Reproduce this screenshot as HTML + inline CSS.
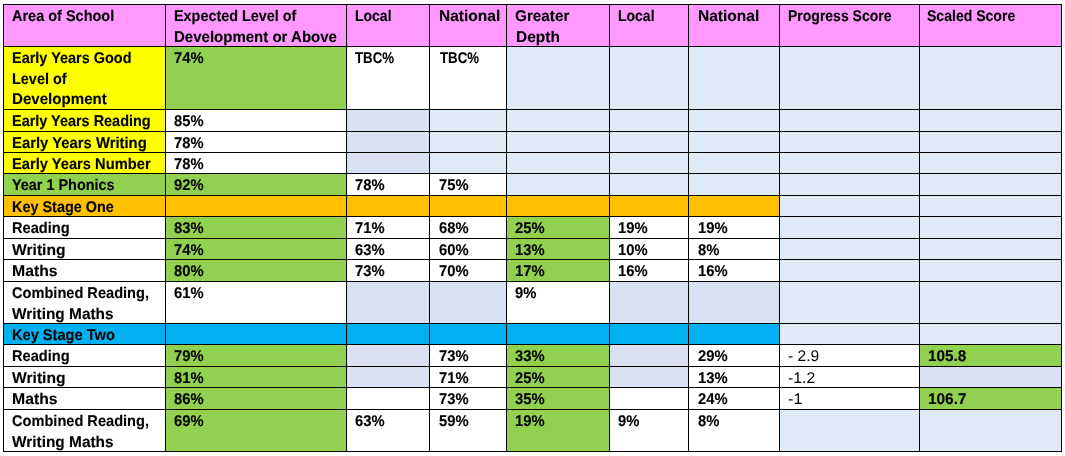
<!DOCTYPE html>
<html lang="en">
<head>
<meta charset="utf-8">
<title>School results</title>
<style>
html,body{margin:0;padding:0;background:#fff;}
body{width:1065px;height:456px;overflow:hidden;position:relative;font-family:"Liberation Sans",sans-serif;}
table{text-rendering:geometricPrecision;position:absolute;left:3px;top:4px;border-collapse:separate;border-spacing:1px;background:#000;table-layout:fixed;width:1059px;}
td,th{padding:0;margin:0;border:0;vertical-align:top;text-align:left;font-weight:bold;font-size:15.0px;color:#000;overflow:visible;-webkit-text-stroke:0.12px #000;}
td div,th div{box-sizing:border-box;padding-left:8px;padding-top:2.1px;line-height:20.5px;white-space:nowrap;overflow:visible;}
.n div{font-weight:normal;-webkit-text-stroke:0;}
span{display:inline-block;transform-origin:0 15.45px;}
</style>
</head>
<body>
<table>
<colgroup>
<col style="width:161px">
<col style="width:180px">
<col style="width:82px">
<col style="width:76px">
<col style="width:102px">
<col style="width:78px">
<col style="width:90px">
<col style="width:139px">
<col style="width:141px">
</colgroup>
<tr style="height:41px">
<th style="background:#FF99FF"><div style="height:41px"><span style="margin-left:-0.3px;transform:scale(0.9656,1.035)">Area of School</span></div></th>
<th style="background:#FF99FF"><div style="height:41px"><span style="margin-left:0.1px;transform:scale(0.9591,1.035)">Expected Level of</span><br><span style="margin-left:0.1px;transform:scale(1.0006,1.035)">Development or Above</span></div></th>
<th style="background:#FF99FF"><div style="height:41px"><span style="margin-left:-0.2px;transform:scale(0.9324,1.035)">Local</span></div></th>
<th style="background:#FF99FF"><div style="height:41px"><span style="margin-left:0.7px;transform:scale(1.0347,1.035)">National</span></div></th>
<th style="background:#FF99FF"><div style="height:41px"><span style="margin-left:0.4px;transform:scale(1.0187,1.035)">Greater</span><br><span style="margin-left:0.8px;transform:scale(1.0337,1.035)">Depth</span></div></th>
<th style="background:#FF99FF"><div style="height:41px"><span style="margin-left:-0.2px;transform:scale(0.9324,1.035)">Local</span></div></th>
<th style="background:#FF99FF"><div style="height:41px"><span style="margin-left:0.7px;transform:scale(1.0347,1.035)">National</span></div></th>
<th style="background:#FF99FF"><div style="height:41px"><span style="margin-left:-0.5px;transform:scale(0.9331,1.035)">Progress Score</span></div></th>
<th style="background:#FF99FF"><div style="height:41px"><span style="margin-left:-0.7px;transform:scale(0.9362,1.035)">Scaled Score</span></div></th>
</tr>
<tr style="height:62px">
<td style="background:#FFFF00"><div style="height:62px"><span style="margin-left:-0.2px;transform:scale(0.9641,1.035)">Early Years Good</span><br><span style="margin-left:-0.2px;transform:scale(0.9626,1.035)">Level of</span><br><span style="margin-left:-0.2px;transform:scale(1.0067,1.035)">Development</span></div></td>
<td style="background:#92D050"><div style="height:62px"><span style="transform:scale(0.9860,1.035)">74%</span></div></td>
<td style="background:#FFFFFF"><div style="height:62px"><span style="margin-left:0.4px;transform:scale(0.8849,1.035)">TBC%</span></div></td>
<td style="background:#FFFFFF"><div style="height:62px"><span style="margin-left:1.5px;transform:scale(0.8849,1.035)">TBC%</span></div></td>
<td style="background:#DEEAF6"><div style="height:62px"></div></td>
<td style="background:#DEEAF6"><div style="height:62px"></div></td>
<td style="background:#DEEAF6"><div style="height:62px"></div></td>
<td style="background:#DEEAF6"><div style="height:62px"></div></td>
<td style="background:#DEEAF6"><div style="height:62px"></div></td>
</tr>
<tr style="height:21px">
<td style="background:#FFFF00"><div style="height:21px"><span style="margin-left:-0.2px;transform:scale(0.9629,1.035)">Early Years Reading</span></div></td>
<td style="background:#FFFFFF"><div style="height:21px"><span style="transform:scale(0.9860,1.035)">85%</span></div></td>
<td style="background:#D9E2F3"><div style="height:21px"></div></td>
<td style="background:#DEEAF6"><div style="height:21px"></div></td>
<td style="background:#DEEAF6"><div style="height:21px"></div></td>
<td style="background:#DEEAF6"><div style="height:21px"></div></td>
<td style="background:#DEEAF6"><div style="height:21px"></div></td>
<td style="background:#DEEAF6"><div style="height:21px"></div></td>
<td style="background:#DEEAF6"><div style="height:21px"></div></td>
</tr>
<tr style="height:20px">
<td style="background:#FFFF00"><div style="height:20px"><span style="margin-left:-0.2px;transform:scale(0.9895,1.035)">Early Years Writing</span></div></td>
<td style="background:#FFFFFF"><div style="height:20px"><span style="transform:scale(0.9860,1.035)">78%</span></div></td>
<td style="background:#D9E2F3"><div style="height:20px"></div></td>
<td style="background:#DEEAF6"><div style="height:20px"></div></td>
<td style="background:#DEEAF6"><div style="height:20px"></div></td>
<td style="background:#DEEAF6"><div style="height:20px"></div></td>
<td style="background:#DEEAF6"><div style="height:20px"></div></td>
<td style="background:#DEEAF6"><div style="height:20px"></div></td>
<td style="background:#DEEAF6"><div style="height:20px"></div></td>
</tr>
<tr style="height:20px">
<td style="background:#FFFF00"><div style="height:20px"><span style="margin-left:-0.2px;transform:scale(0.9799,1.035)">Early Years Number</span></div></td>
<td style="background:#FFFFFF"><div style="height:20px"><span style="transform:scale(0.9860,1.035)">78%</span></div></td>
<td style="background:#D9E2F3"><div style="height:20px"></div></td>
<td style="background:#DEEAF6"><div style="height:20px"></div></td>
<td style="background:#DEEAF6"><div style="height:20px"></div></td>
<td style="background:#DEEAF6"><div style="height:20px"></div></td>
<td style="background:#DEEAF6"><div style="height:20px"></div></td>
<td style="background:#DEEAF6"><div style="height:20px"></div></td>
<td style="background:#DEEAF6"><div style="height:20px"></div></td>
</tr>
<tr style="height:21px">
<td style="background:#92D050"><div style="height:21px"><span style="margin-left:-0.2px;transform:scale(0.9610,1.035)">Year 1 Phonics</span></div></td>
<td style="background:#92D050"><div style="height:21px"><span style="transform:scale(0.9860,1.035)">92%</span></div></td>
<td style="background:#FFFFFF"><div style="height:21px"><span style="margin-left:-0.4px;transform:scale(0.9860,1.035)">78%</span></div></td>
<td style="background:#FFFFFF"><div style="height:21px"><span style="margin-left:0.6px;transform:scale(0.9860,1.035)">75%</span></div></td>
<td style="background:#DEEAF6"><div style="height:21px"></div></td>
<td style="background:#DEEAF6"><div style="height:21px"></div></td>
<td style="background:#DEEAF6"><div style="height:21px"></div></td>
<td style="background:#DEEAF6"><div style="height:21px"></div></td>
<td style="background:#DEEAF6"><div style="height:21px"></div></td>
</tr>
<tr style="height:20px">
<td style="background:#FFC000"><div style="height:20px"><span style="margin-left:-0.2px;transform:scale(0.9615,1.035)">Key Stage One</span></div></td>
<td style="background:#FFC000"><div style="height:20px"></div></td>
<td style="background:#FFC000"><div style="height:20px"></div></td>
<td style="background:#FFC000"><div style="height:20px"></div></td>
<td style="background:#FFC000"><div style="height:20px"></div></td>
<td style="background:#FFC000"><div style="height:20px"></div></td>
<td style="background:#FFC000"><div style="height:20px"></div></td>
<td style="background:#DEEAF6"><div style="height:20px"></div></td>
<td style="background:#DEEAF6"><div style="height:20px"></div></td>
</tr>
<tr style="height:21px">
<td style="background:#FFFFFF"><div style="height:21px"><span style="margin-left:-0.2px;transform:scale(0.9735,1.035)">Reading</span></div></td>
<td style="background:#92D050"><div style="height:21px"><span style="transform:scale(0.9860,1.035)">83%</span></div></td>
<td style="background:#FFFFFF"><div style="height:21px"><span style="margin-left:-0.4px;transform:scale(0.9860,1.035)">71%</span></div></td>
<td style="background:#FFFFFF"><div style="height:21px"><span style="margin-left:0.6px;transform:scale(0.9860,1.035)">68%</span></div></td>
<td style="background:#92D050"><div style="height:21px"><span style="margin-left:0.3px;transform:scale(0.9860,1.035)">25%</span></div></td>
<td style="background:#FFFFFF"><div style="height:21px"><span style="margin-left:-0.5px;transform:scale(0.9860,1.035)">19%</span></div></td>
<td style="background:#FFFFFF"><div style="height:21px"><span style="margin-left:0.7px;transform:scale(0.9860,1.035)">19%</span></div></td>
<td style="background:#DEEAF6"><div style="height:21px"></div></td>
<td style="background:#DEEAF6"><div style="height:21px"></div></td>
</tr>
<tr style="height:20px">
<td style="background:#FFFFFF"><div style="height:20px"><span style="margin-left:0.2px;transform:scale(1.0418,1.035)">Writing</span></div></td>
<td style="background:#92D050"><div style="height:20px"><span style="transform:scale(0.9860,1.035)">74%</span></div></td>
<td style="background:#FFFFFF"><div style="height:20px"><span style="margin-left:-0.4px;transform:scale(0.9860,1.035)">63%</span></div></td>
<td style="background:#FFFFFF"><div style="height:20px"><span style="margin-left:0.6px;transform:scale(0.9860,1.035)">60%</span></div></td>
<td style="background:#92D050"><div style="height:20px"><span style="margin-left:0.3px;transform:scale(0.9860,1.035)">13%</span></div></td>
<td style="background:#FFFFFF"><div style="height:20px"><span style="margin-left:-0.5px;transform:scale(0.9860,1.035)">10%</span></div></td>
<td style="background:#FFFFFF"><div style="height:20px"><span style="margin-left:0.7px;transform:scale(0.9860,1.035)">8%</span></div></td>
<td style="background:#DEEAF6"><div style="height:20px"></div></td>
<td style="background:#DEEAF6"><div style="height:20px"></div></td>
</tr>
<tr style="height:21px">
<td style="background:#FFFFFF"><div style="height:21px"><span style="margin-left:-0.3px;transform:scale(1.0505,1.035)">Maths</span></div></td>
<td style="background:#92D050"><div style="height:21px"><span style="transform:scale(0.9860,1.035)">80%</span></div></td>
<td style="background:#FFFFFF"><div style="height:21px"><span style="margin-left:-0.4px;transform:scale(0.9860,1.035)">73%</span></div></td>
<td style="background:#FFFFFF"><div style="height:21px"><span style="margin-left:0.6px;transform:scale(0.9860,1.035)">70%</span></div></td>
<td style="background:#92D050"><div style="height:21px"><span style="margin-left:0.3px;transform:scale(0.9860,1.035)">17%</span></div></td>
<td style="background:#FFFFFF"><div style="height:21px"><span style="margin-left:-0.5px;transform:scale(0.9860,1.035)">16%</span></div></td>
<td style="background:#FFFFFF"><div style="height:21px"><span style="margin-left:0.7px;transform:scale(0.9860,1.035)">16%</span></div></td>
<td style="background:#DEEAF6"><div style="height:21px"></div></td>
<td style="background:#DEEAF6"><div style="height:21px"></div></td>
</tr>
<tr style="height:41px">
<td style="background:#FFFFFF"><div style="height:41px"><span style="margin-left:-0.2px;transform:scale(0.9726,1.035)">Combined Reading,</span><br><span style="margin-left:0.2px;transform:scale(1.0272,1.035)">Writing Maths</span></div></td>
<td style="background:#FFFFFF"><div style="height:41px"><span style="transform:scale(0.9860,1.035)">61%</span></div></td>
<td style="background:#D9E2F3"><div style="height:41px"></div></td>
<td style="background:#D9E2F3"><div style="height:41px"></div></td>
<td style="background:#FFFFFF"><div style="height:41px"><span style="margin-left:0.3px;transform:scale(0.9860,1.035)">9%</span></div></td>
<td style="background:#D9E2F3"><div style="height:41px"></div></td>
<td style="background:#D9E2F3"><div style="height:41px"></div></td>
<td style="background:#DEEAF6"><div style="height:41px"></div></td>
<td style="background:#DEEAF6"><div style="height:41px"></div></td>
</tr>
<tr style="height:20px">
<td style="background:#00B0F0"><div style="height:20px"><span style="margin-left:-0.2px;transform:scale(0.9740,1.035)">Key Stage Two</span></div></td>
<td style="background:#00B0F0"><div style="height:20px"></div></td>
<td style="background:#00B0F0"><div style="height:20px"></div></td>
<td style="background:#00B0F0"><div style="height:20px"></div></td>
<td style="background:#00B0F0"><div style="height:20px"></div></td>
<td style="background:#00B0F0"><div style="height:20px"></div></td>
<td style="background:#00B0F0"><div style="height:20px"></div></td>
<td style="background:#DEEAF6"><div style="height:20px"></div></td>
<td style="background:#DEEAF6"><div style="height:20px"></div></td>
</tr>
<tr style="height:21px">
<td style="background:#FFFFFF"><div style="height:21px"><span style="margin-left:-0.2px;transform:scale(0.9735,1.035)">Reading</span></div></td>
<td style="background:#92D050"><div style="height:21px"><span style="transform:scale(0.9860,1.035)">79%</span></div></td>
<td style="background:#D9E2F3"><div style="height:21px"></div></td>
<td style="background:#FFFFFF"><div style="height:21px"><span style="margin-left:0.6px;transform:scale(0.9860,1.035)">73%</span></div></td>
<td style="background:#92D050"><div style="height:21px"><span style="margin-left:0.3px;transform:scale(0.9860,1.035)">33%</span></div></td>
<td style="background:#D9E2F3"><div style="height:21px"></div></td>
<td style="background:#FFFFFF"><div style="height:21px"><span style="margin-left:0.7px;transform:scale(0.9860,1.035)">29%</span></div></td>
<td class="n" style="background:#FFFFFF"><div style="height:21px"><span style="margin-left:-0.4px;transform:scale(1.0358,1.035)">- 2.9</span></div></td>
<td style="background:#92D050"><div style="height:21px"><span style="margin-left:0.3px;transform:scale(1.0219,1.035)">105.8</span></div></td>
</tr>
<tr style="height:20px">
<td style="background:#FFFFFF"><div style="height:20px"><span style="margin-left:0.2px;transform:scale(1.0418,1.035)">Writing</span></div></td>
<td style="background:#92D050"><div style="height:20px"><span style="transform:scale(0.9860,1.035)">81%</span></div></td>
<td style="background:#D9E2F3"><div style="height:20px"></div></td>
<td style="background:#FFFFFF"><div style="height:20px"><span style="margin-left:0.6px;transform:scale(0.9860,1.035)">71%</span></div></td>
<td style="background:#92D050"><div style="height:20px"><span style="margin-left:0.3px;transform:scale(0.9860,1.035)">25%</span></div></td>
<td style="background:#D9E2F3"><div style="height:20px"></div></td>
<td style="background:#FFFFFF"><div style="height:20px"><span style="margin-left:0.7px;transform:scale(0.9860,1.035)">13%</span></div></td>
<td class="n" style="background:#FFFFFF"><div style="height:20px"><span style="margin-left:-0.4px;transform:scale(1.0560,1.035)">-1.2</span></div></td>
<td style="background:#D9E2F3"><div style="height:20px"></div></td>
</tr>
<tr style="height:21px">
<td style="background:#FFFFFF"><div style="height:21px"><span style="margin-left:-0.3px;transform:scale(1.0505,1.035)">Maths</span></div></td>
<td style="background:#92D050"><div style="height:21px"><span style="transform:scale(0.9860,1.035)">86%</span></div></td>
<td style="background:#FFFFFF"><div style="height:21px"></div></td>
<td style="background:#FFFFFF"><div style="height:21px"><span style="margin-left:0.6px;transform:scale(0.9860,1.035)">73%</span></div></td>
<td style="background:#92D050"><div style="height:21px"><span style="margin-left:0.3px;transform:scale(0.9860,1.035)">35%</span></div></td>
<td style="background:#FFFFFF"><div style="height:21px"></div></td>
<td style="background:#FFFFFF"><div style="height:21px"><span style="margin-left:0.7px;transform:scale(0.9860,1.035)">24%</span></div></td>
<td class="n" style="background:#FFFFFF"><div style="height:21px"><span style="margin-left:-0.4px;transform:scale(1.0815,1.035)">-1</span></div></td>
<td style="background:#92D050"><div style="height:21px"><span style="margin-left:0.3px;transform:scale(1.0259,1.035)">106.7</span></div></td>
</tr>
<tr style="height:41px">
<td style="background:#FFFFFF"><div style="height:41px"><span style="margin-left:-0.2px;transform:scale(0.9726,1.035)">Combined Reading,</span><br><span style="margin-left:0.2px;transform:scale(1.0272,1.035)">Writing Maths</span></div></td>
<td style="background:#92D050"><div style="height:41px"><span style="transform:scale(0.9860,1.035)">69%</span></div></td>
<td style="background:#FFFFFF"><div style="height:41px"><span style="margin-left:-0.4px;transform:scale(0.9860,1.035)">63%</span></div></td>
<td style="background:#FFFFFF"><div style="height:41px"><span style="margin-left:0.6px;transform:scale(0.9860,1.035)">59%</span></div></td>
<td style="background:#92D050"><div style="height:41px"><span style="margin-left:0.3px;transform:scale(0.9860,1.035)">19%</span></div></td>
<td style="background:#FFFFFF"><div style="height:41px"><span style="margin-left:-0.5px;transform:scale(0.9860,1.035)">9%</span></div></td>
<td style="background:#FFFFFF"><div style="height:41px"><span style="margin-left:0.7px;transform:scale(0.9860,1.035)">8%</span></div></td>
<td style="background:#DEEAF6"><div style="height:41px"></div></td>
<td style="background:#DEEAF6"><div style="height:41px"></div></td>
</tr>
</table>
</body>
</html>
